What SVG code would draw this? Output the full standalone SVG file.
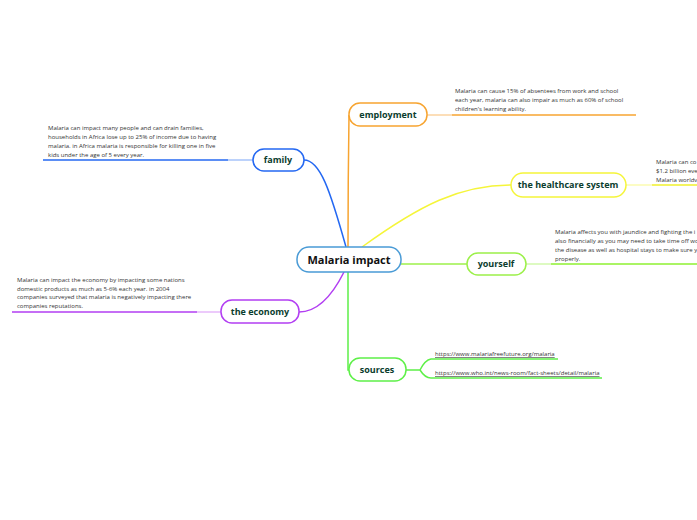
<svg xmlns="http://www.w3.org/2000/svg" width="697" height="520" viewBox="0 0 697 520">
<style>
.n{fill:#fff;stroke-width:1.5}
.l{font-family:"Open Sans","Noto Sans",sans-serif;font-size:9px;font-weight:bold;fill:#0b3d2e;text-anchor:middle}
.t{font-family:"Open Sans","Noto Sans",sans-serif;font-size:6px;fill:#333}
.c{fill:none;stroke-width:1.5}
</style>
<rect width="697" height="520" fill="#fff"/>
<g id="connectors">
<path class="c" d="M348,247 Q348,180 349,115" stroke="#f7a430"/>
<path class="c" d="M427,115 H452" stroke="#fbd3a0"/>
<path class="c" d="M452,115 H636" stroke="#f7a430"/>
<path class="c" d="M346,247 C330,190 320,160 304,160" stroke="#2468f2"/>
<path class="c" d="M228,160 H253" stroke="#a6c3fa"/>
<path class="c" d="M43,160 H228" stroke="#2468f2" stroke-width="2"/>
<path class="c" d="M362,247 C420,205 460,185 511,185" stroke="#f5f53a"/>
<path class="c" d="M626,185 H652" stroke="#fbfbb0"/>
<path class="c" d="M652,185 H697" stroke="#f0f02a" stroke-width="2"/>
<path class="c" d="M401,264 H467" stroke="#9cf04a"/>
<path class="c" d="M526,264 H551" stroke="#d2f9ad"/>
<path class="c" d="M551,264 H697" stroke="#8ef030" stroke-width="2"/>
<path class="c" d="M344,272 C330,300 315,312 299,312" stroke="#b23ef2"/>
<path class="c" d="M197,312 H221" stroke="#e6b8fa"/>
<path class="c" d="M12,312 H197" stroke="#b23ef2" stroke-width="2"/>
<path class="c" d="M348,272 V370 H349" stroke="#5ef048"/>
<path class="c" d="M406,370 H420 Q425,360 431,359 H558 M420,370 Q425,378 431,378 H602" stroke="#5ef048"/>
</g>
<g id="central"><rect class="n" x="297" y="247" width="104" height="25" rx="12" stroke="#4a9bd6"/><text class="l" x="349" y="264" style="font-size:11px;fill:#111">Malaria impact</text></g>
<g id="employment"><rect class="n" x="349" y="103" width="78" height="23" rx="11" stroke="#f7a430"/><text class="l" x="388" y="118">employment</text>
<text class="t" x="455" y="93">Malaria can cause 15% of absentees from work and school</text>
<text class="t" x="455" y="102">each year, malaria can also impair as much as 60% of school</text>
<text class="t" x="455" y="111">children's learning ability.</text></g>
<g id="family"><rect class="n" x="253" y="149" width="51" height="22" rx="11" stroke="#2468f2"/><text class="l" x="278" y="163">family</text>
<text class="t" x="48" y="130">Malaria can impact many people and can drain families,</text>
<text class="t" x="48" y="139">households in Africa lose up to 25% of income due to having</text>
<text class="t" x="48" y="148">malaria. in Africa malaria is responsible for killing one in five</text>
<text class="t" x="48" y="157">kids under the age of 5 every year.</text></g>
<g id="healthcare"><rect class="n" x="511" y="173" width="115" height="24" rx="12" stroke="#f5f53a"/><text class="l" x="568" y="188">the healthcare system</text>
<text class="t" x="656" y="164">Malaria can co</text>
<text class="t" x="656" y="173">$1.2 billion eve</text>
<text class="t" x="656" y="182">Malaria worldv</text></g>
<g id="yourself"><rect class="n" x="467" y="253" width="59" height="22" rx="11" stroke="#9cf04a"/><text class="l" x="496" y="267">yourself</text>
<text class="t" x="555" y="234">Malaria affects you with jaundice and fighting the i</text>
<text class="t" x="555" y="243">also financially as you may need to take time off wo</text>
<text class="t" x="555" y="252">the disease as well as hospital stays to make sure y</text>
<text class="t" x="555" y="261">properly.</text></g>
<g id="economy"><rect class="n" x="221" y="300" width="78" height="23" rx="11" stroke="#b23ef2"/><text class="l" x="260" y="315">the economy</text>
<text class="t" x="17" y="282">Malaria can impact the economy by  impacting some nations</text>
<text class="t" x="17" y="291">domestic products as much as 5-6% each year. in 2004</text>
<text class="t" x="17" y="299">companies surveyed that malaria is negatively impacting there</text>
<text class="t" x="17" y="308">companies reputations.</text></g>
<g id="sources"><rect class="n" x="349" y="358" width="57" height="23" rx="11" stroke="#5ef048"/><text class="l" x="377" y="373">sources</text>
<text class="t" x="435" y="356" text-decoration="underline">https://www.malariafreefuture.org/malaria</text>
<text class="t" x="435" y="375" text-decoration="underline">https://www.who.int/news-room/fact-sheets/detail/malaria</text></g>
</svg>
